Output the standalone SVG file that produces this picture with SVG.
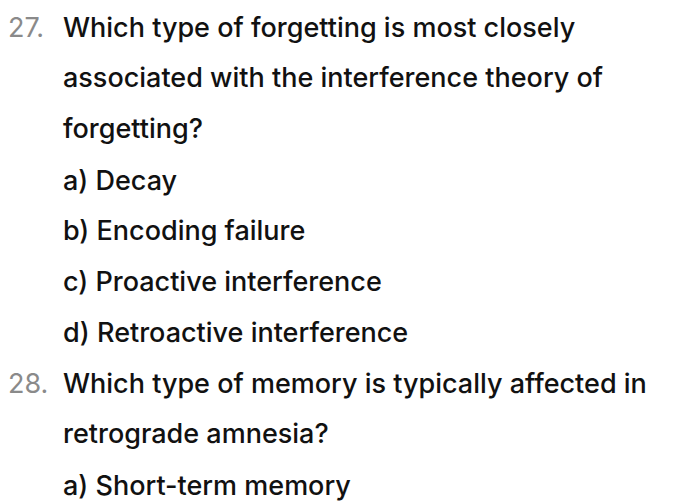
<svg xmlns="http://www.w3.org/2000/svg" width="678" height="501" viewBox="0 0 678 501">
<style>
text{font-family:Inter,"Liberation Sans",sans-serif;font-size:27px;fill:#111;font-weight:500}
.n{fill:#8a8a8a;font-weight:400}
</style>
<rect width="678" height="501" fill="#fff"/>
<text class="n" x="8" y="37">27.</text>
<text x="63" y="37">Which type of forgetting is most closely</text>
<text x="63" y="87">associated with the interference theory of</text>
<text x="63" y="138">forgetting?</text>
<text x="63" y="190">a) Decay</text>
<text x="63" y="240">b) Encoding failure</text>
<text x="63" y="291">c) Proactive interference</text>
<text x="63" y="342">d) Retroactive interference</text>
<text class="n" x="8" y="393">28.</text>
<text x="63" y="393">Which type of memory is typically affected in</text>
<text x="63" y="443">retrograde amnesia?</text>
<text x="63" y="495">a) Short-term memory</text>
</svg>
